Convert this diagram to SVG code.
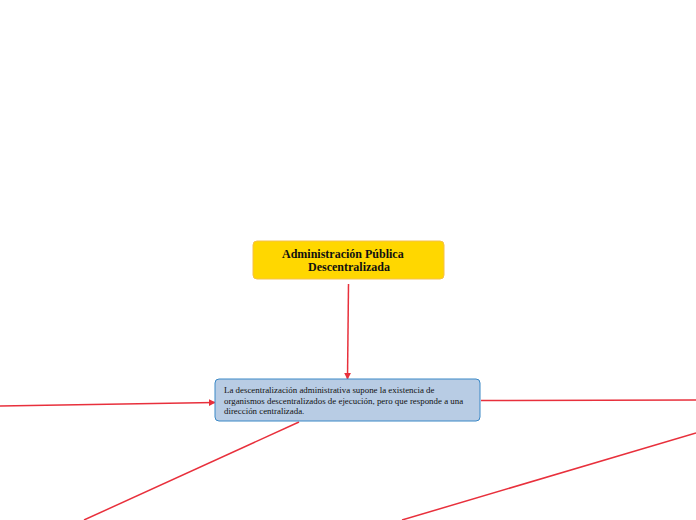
<svg xmlns="http://www.w3.org/2000/svg" width="696" height="520" viewBox="0 0 696 520">
<style>
.conn{stroke:#E8303C;stroke-width:1.5;fill:none}
.t1{font-family:"Liberation Serif",serif;font-weight:bold;font-size:12px;fill:#111}
.t2{font-family:"Liberation Serif",serif;font-size:8.9px;fill:#111}
</style>
<defs>
<marker id="arr" viewBox="0 0 10 10" refX="9" refY="5" markerWidth="7" markerHeight="7" orient="auto" markerUnits="userSpaceOnUse">
<path d="M0,0 L10,5 L0,10 z" fill="#E8303C"/>
</marker>
</defs>
<rect width="696" height="520" fill="#fff"/>
<g id="connectors">
<line class="conn" x1="348.5" y1="284" x2="347.5" y2="379" marker-end="url(#arr)"/>
<line class="conn" x1="0" y1="406" x2="215" y2="402.5" marker-end="url(#arr)"/>
<line class="conn" x1="481" y1="400.5" x2="696" y2="400"/>
<line class="conn" x1="299" y1="422" x2="84" y2="520"/>
<line class="conn" x1="696" y1="433" x2="402" y2="520"/>
</g>
<g id="node-main">
<rect x="253" y="241" width="191" height="38" rx="4" fill="#FFD700" stroke="#F5C04A" stroke-width="1"/>
<text class="t1" x="282" y="258">Administración Pública</text>
<text class="t1" x="308" y="271">Descentralizada</text>
</g>
<g id="node-desc">
<rect x="215" y="379" width="265" height="42" rx="4" fill="#B8CCE4" stroke="#3A88C6" stroke-width="1"/>
<text class="t2" x="224" y="393">La descentralización administrativa supone la existencia de</text>
<text class="t2" x="224" y="403.5">organismos descentralizados de ejecución, pero que responde a una</text>
<text class="t2" x="224" y="414">dirección centralizada.</text>
</g>
</svg>
